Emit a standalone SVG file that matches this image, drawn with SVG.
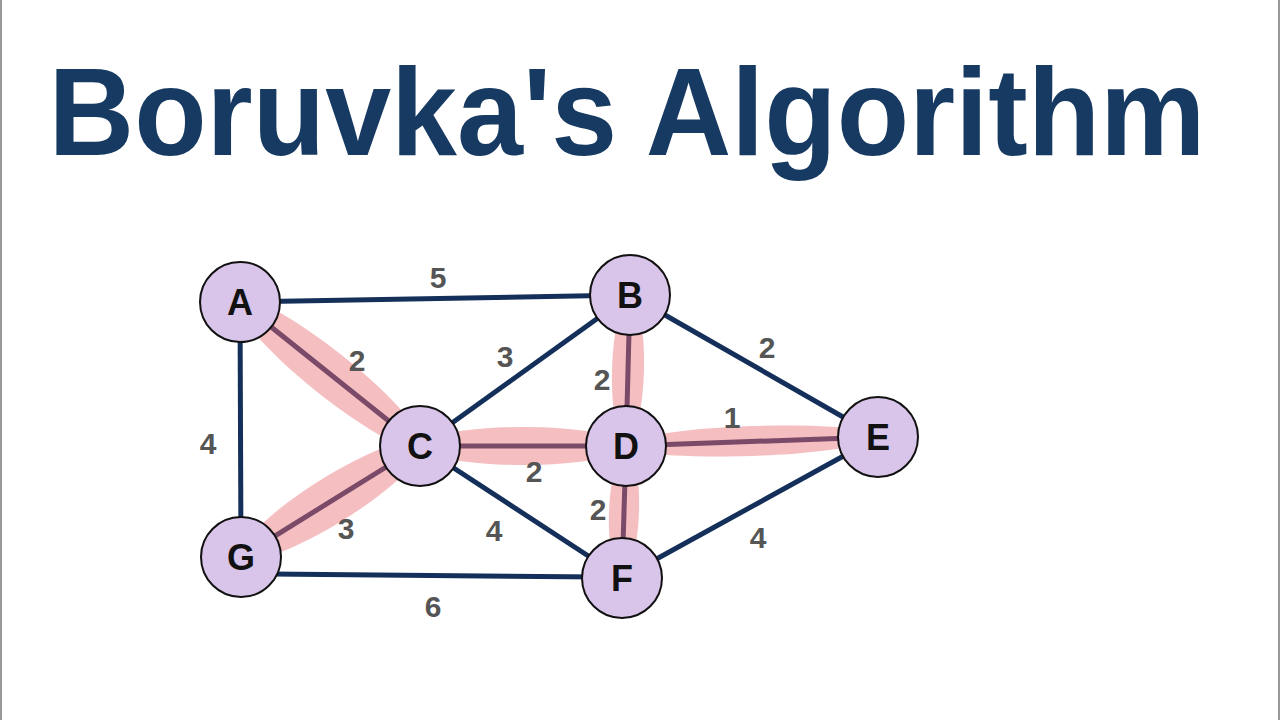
<svg xmlns="http://www.w3.org/2000/svg" width="1280" height="720" viewBox="0 0 1280 720">
<style>
.e{stroke:#14305a;stroke-width:5;fill:none}
.h{stroke:#7a4a68;stroke-width:5;fill:none}
.g{fill:#f2a8ab;opacity:0.75}
.n{fill:#d9c4ea;stroke:#111;stroke-width:2}
.t{font-family:"Liberation Sans",Arial,sans-serif;font-weight:bold;font-size:36px;fill:#111;text-anchor:middle}
.w{font-family:"Liberation Sans",Arial,sans-serif;font-weight:bold;font-size:30px;fill:#555;text-anchor:middle}
</style>
<rect width="1280" height="720" fill="#fff"/>
<line x1="1" y1="0" x2="1" y2="720" stroke="#999" stroke-width="2"/>
<line x1="1279" y1="0" x2="1279" y2="720" stroke="#999" stroke-width="2"/>
<text x="627" y="155" font-family="Liberation Sans,Arial,sans-serif" font-weight="bold" font-size="124" fill="#173a63" text-anchor="middle" textLength="1157" lengthAdjust="spacingAndGlyphs">Boruvka's Algorithm</text>
<g id="connectors">
<g id="glow">
<ellipse class="g" cx="330" cy="374" rx="118" ry="22" transform="rotate(38.7 330 374)"/>
<ellipse class="g" cx="628" cy="370" rx="72" ry="16" transform="rotate(91.5 628 370)"/>
<ellipse class="g" cx="523" cy="446" rx="102" ry="19"/>
<ellipse class="g" cx="332" cy="500" rx="105" ry="23" transform="rotate(-32 332 500)"/>
<ellipse class="g" cx="752" cy="441" rx="124" ry="15" transform="rotate(-2 752 441)"/>
<ellipse class="g" cx="624" cy="512" rx="62" ry="15" transform="rotate(92 624 512)"/>
</g>
<line class="e" x1="240" y1="302" x2="630" y2="295"/>
<line class="e" x1="240" y1="302" x2="241" y2="557"/>
<line class="e" x1="420" y1="446" x2="630" y2="295"/>
<line class="e" x1="630" y1="295" x2="878" y2="437"/>
<line class="e" x1="420" y1="446" x2="622" y2="578"/>
<line class="e" x1="270" y1="574" x2="600" y2="577"/>
<line class="e" x1="622" y1="578" x2="878" y2="437"/>
<line class="h" x1="240" y1="302" x2="420" y2="446"/>
<line class="h" x1="630" y1="295" x2="626" y2="446"/>
<line class="h" x1="420" y1="446" x2="626" y2="446"/>
<line class="h" x1="420" y1="446" x2="241" y2="557"/>
<line class="h" x1="626" y1="446" x2="878" y2="437"/>
<line class="h" x1="626" y1="446" x2="622" y2="578"/>
<text class="w" x="438" y="288">5</text>
<text class="w" x="357" y="371">2</text>
<text class="w" x="505" y="367">3</text>
<text class="w" x="767" y="358">2</text>
<text class="w" x="602" y="390">2</text>
<text class="w" x="208" y="454">4</text>
<text class="w" x="534" y="482">2</text>
<text class="w" x="732" y="428">1</text>
<text class="w" x="598" y="520">2</text>
<text class="w" x="346" y="539">3</text>
<text class="w" x="494" y="541">4</text>
<text class="w" x="758" y="548">4</text>
<text class="w" x="433" y="617">6</text>
</g>
<g id="A"><circle class="n" cx="240" cy="302" r="40"/><text class="t" x="240" y="315">A</text></g>
<g id="B"><circle class="n" cx="630" cy="295" r="40"/><text class="t" x="630" y="308">B</text></g>
<g id="C"><circle class="n" cx="420" cy="446" r="40"/><text class="t" x="420" y="459">C</text></g>
<g id="D"><circle class="n" cx="626" cy="446" r="40"/><text class="t" x="626" y="459">D</text></g>
<g id="E"><circle class="n" cx="878" cy="437" r="40"/><text class="t" x="878" y="450">E</text></g>
<g id="G"><circle class="n" cx="241" cy="557" r="40"/><text class="t" x="241" y="570">G</text></g>
<g id="F"><circle class="n" cx="622" cy="578" r="40"/><text class="t" x="622" y="591">F</text></g>
</svg>
